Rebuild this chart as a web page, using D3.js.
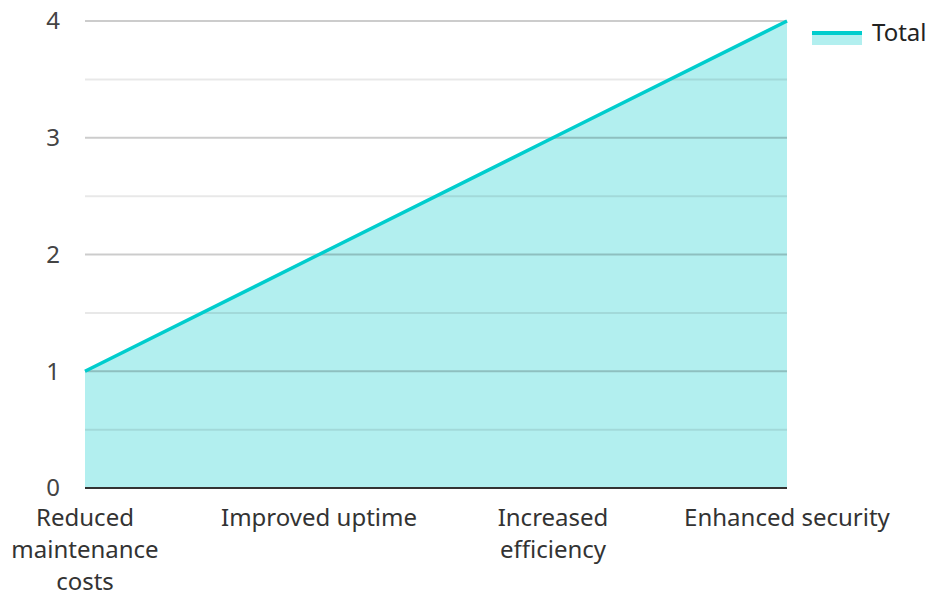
<!DOCTYPE html>
<html>
<head>
<meta charset="utf-8">
<script src="https://cdn.jsdelivr.net/npm/d3@7.9.0/dist/d3.min.js"></script>
<style>
  body { margin: 0; background: #fff; }
  svg { display: block; font-family: "Noto Sans", "Open Sans", sans-serif; }
</style>
</head>
<body>
<div id="chart"></div>
<script>
const categories = [
  ['Reduced', 'maintenance', 'costs'],
  ['Improved uptime'],
  ['Increased', 'efficiency'],
  ['Enhanced security']
];
const totals = [1, 2, 3, 4];
const yTicks = [0, 1, 2, 3, 4];
const seriesName = 'Total';

const width = 929, height = 592;
const margin = { top: 21, right: 142, bottom: 104, left: 85 };

const svg = d3.select('#chart').append('svg')
  .attr('width', width).attr('height', height);

const keys = categories.map((c, i) => i);
const x = d3.scalePoint().domain(keys).range([margin.left, width - margin.right]);
const y = d3.scaleLinear().domain([0, 4]).range([height - margin.bottom, margin.top]);

const data = keys.map(i => ({ k: i, v: totals[i] }));

// area fill
svg.append('path')
  .datum(data)
  .attr('fill', '#b2efef')
  .attr('d', d3.area().x(d => x(d.k)).y0(y(0)).y1(d => y(d.v)));

// gridlines (minor then major), drawn over the fill
const minor = d3.range(0.5, 4, 1);
svg.append('g')
  .selectAll('line')
  .data(minor)
  .join('line')
  .attr('x1', margin.left).attr('x2', width - margin.right)
  .attr('y1', d => y(d)).attr('y2', d => y(d))
  .attr('stroke', 'rgba(0,0,0,0.09)')
  .attr('stroke-width', 2);

svg.append('g')
  .selectAll('line')
  .data(yTicks.filter(d => d > 0))
  .join('line')
  .attr('x1', margin.left).attr('x2', width - margin.right)
  .attr('y1', d => y(d)).attr('y2', d => y(d))
  .attr('stroke', 'rgba(0,0,0,0.2)')
  .attr('stroke-width', 2);

svg.append('path')
  .datum(data)
  .attr('fill', 'none')
  .attr('stroke', '#00cdcd')
  .attr('stroke-width', 3.5)
  .attr('d', d3.line().x(d => x(d.k)).y(d => y(d.v)));

// baseline
svg.append('line')
  .attr('x1', margin.left).attr('x2', width - margin.right)
  .attr('y1', y(0)).attr('y2', y(0))
  .attr('stroke', '#333').attr('stroke-width', 2);

// y labels
svg.append('g')
  .selectAll('text')
  .data(yTicks)
  .join('text')
  .attr('x', 60)
  .attr('y', d => y(d))
  .attr('dy', '0.35em')
  .attr('text-anchor', 'end')
  .attr('fill', '#444')
  .attr('font-size', 24)
  .text(d => d);

// x labels
const xl = svg.append('g')
  .selectAll('text')
  .data(keys)
  .join('text')
  .attr('x', d => x(d))
  .attr('y', y(0) + 38)
  .attr('text-anchor', 'middle')
  .attr('fill', '#333')
  .attr('font-size', 24);
xl.selectAll('tspan')
  .data(d => categories[d].map(t => ({ t, x: x(d) })))
  .join('tspan')
  .attr('x', d => d.x)
  .attr('dy', (d, i) => i === 0 ? 0 : 32)
  .text(d => d.t);

// legend
const lg = svg.append('g').attr('transform', 'translate(812,33)');
lg.append('rect').attr('x', 0).attr('y', 0).attr('width', 50).attr('height', 12).attr('fill', '#b2efef');
lg.append('line').attr('x1', 0).attr('x2', 50).attr('y1', 0).attr('y2', 0)
  .attr('stroke', '#00cdcd').attr('stroke-width', 4);
lg.append('text').attr('x', 60).attr('y', 0).attr('dy', '0.35em')
  .attr('fill', '#222').attr('font-size', 24).text(seriesName);
</script>
</body>
</html>
